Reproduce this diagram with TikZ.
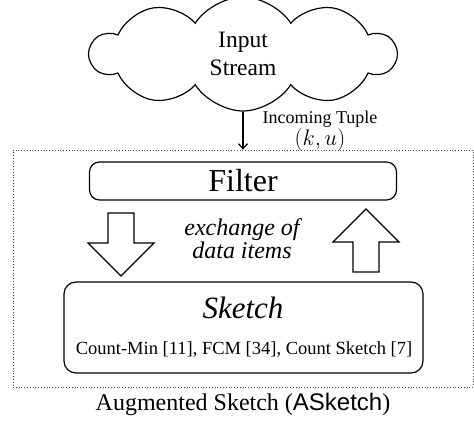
\RequirePackage{fix-cm}
\documentclass[tikz,border=0pt]{standalone}
\usepackage{fontspec}
\setmainfont{Liberation Serif}
\newfontfamily\asketchfont{Liberation Sans}
\usetikzlibrary{arrows.meta,positioning,shapes.symbols}
\tikzset{
  unit/.style={
    rounded corners=10pt, draw=black, line width=1.2pt,
    minimum width=307pt, minimum height=38pt, align=center
  },
  frame/.style={
    draw=black!70, dotted, line width=0.8pt,
    minimum width=460pt, minimum height=237pt
  },
  flow/.style={-{Straight Barb[length=5pt,width=9pt]}, line width=1.2pt},
  blockarrow/.pic={
    \draw[line width=1.2pt, fill=white]
      (-13,0) -- (13,0) -- (13,30) -- (33,30) -- (0,63) -- (-33,30) -- (-13,30) -- cycle;
  }
}
\begin{document}
\begin{tikzpicture}[x=1pt,y=-1pt]
  \useasboundingbox (0,0) rectangle (474,435);
  % source of the tuples
  \node[cloud, draw, line width=1.2pt, cloud puffs=10, cloud puff arc=115,
        aspect=2.6, minimum width=305pt, minimum height=114pt, inner sep=0pt,
        align=center, font=\fontsize{23.5}{28}\selectfont] (stream) at (243,54) {Input\\Stream};
  % the augmented sketch
  \node[frame] (asketch) at (243,268.5) {};
  \node[font=\fontsize{24}{28}\selectfont, below=2pt of asketch] (caption)
    {Augmented Sketch ({\asketchfont ASketch})};
  \node[unit, font=\fontsize{32}{36}\selectfont] (filter) at (243,181) {Filter};
  \node[unit, rounded corners=12pt, minimum width=359pt, minimum height=91pt] (sketch) at (243.5,327.5) {};
  \node[font=\fontsize{31}{34}\selectfont\itshape] (sketchname) at (243,308) {Sketch};
  \node[font=\fontsize{18.5}{22}\selectfont] (sketchlist) at (244,350) {Count-Min [11], FCM [34], Count Sketch [7]};
  \node[font=\fontsize{24}{23}\selectfont\itshape, align=center] (exchange) at (242,239) {exchange of\\data items};
  \pic at (121,213) {blockarrow};
  \pic[rotate=180] at (366,272) {blockarrow};
  % incoming tuple
  \draw[flow] (stream.south) -- (stream.south |- asketch.north);
  \node[font=\fontsize{18}{22}\selectfont, align=center] (tuple) at (320,131)
    {Incoming Tuple\\{\fontsize{22.5}{22}\selectfont$(k,u)$}};
\end{tikzpicture}
\end{document}
